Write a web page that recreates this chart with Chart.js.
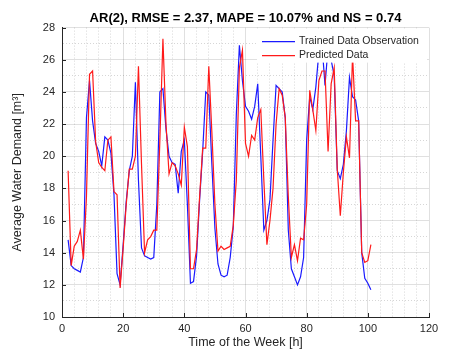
<!DOCTYPE html>
<html><head><meta charset="utf-8">
<script src="https://cdn.jsdelivr.net/npm/chart.js@4.4.1/dist/chart.umd.min.js"></script>
<style>html,body{margin:0;padding:0;background:#fff;}canvas{display:block;}</style>
</head><body>
<canvas id="c" width="474" height="356"></canvas>
<script>
const hours = [2,3,4,5,6,7,8,9,10,11,12,13,14,15,16,17,18,19,20,21,22,23,24,25,26,27,28,29,30,31,32,33,34,35,36,37,38,39,40,41,42,43,44,45,46,47,48,49,50,51,52,53,54,55,56,57,58,59,60,61,62,63,64,65,66,67,68,69,70,71,72,73,74,75,76,77,78,79,80,81,82,83,84,85,86,87,88,89,90,91,92,93,94,95,96,97,98,99,100,101];
const observed = [14.8,13.2,13.0,12.9,12.8,13.7,22.4,24.7,22.2,20.8,20.3,19.4,21.2,21.0,20.2,17.6,12.7,12.0,14.5,17.2,19.1,20.0,24.6,18.5,14.3,13.8,13.7,13.6,13.7,17.0,24.0,24.2,21.7,20.0,19.6,19.5,17.7,20.3,21.0,17.0,12.1,12.2,13.8,17.3,20.3,24.0,23.8,19.5,15.5,13.3,12.6,12.5,12.6,13.7,15.6,22.6,26.9,24.7,23.1,22.8,22.3,23.1,24.5,20.0,15.4,16.0,17.3,21.0,24.4,24.2,24.0,22.4,15.4,13.0,12.5,12.0,12.5,13.7,21.0,23.7,22.9,24.3,26.5,27.0,24.4,26.8,26.0,25.0,19.1,18.6,19.5,21.6,24.9,23.7,23.5,22.2,14.0,12.4,12.1,11.7];
const predicted = [19.1,13.2,14.4,14.7,15.4,13.6,17.5,25.1,25.3,20.9,19.6,19.3,19.1,21.0,21.2,17.8,17.6,11.8,14.3,17.0,19.2,19.2,20.0,25.6,19.5,14.0,14.8,15.0,15.4,15.4,21.0,27.3,22.0,18.9,19.6,19.4,18.9,18.2,21.8,20.6,13.0,13.0,14.2,17.5,20.5,20.5,25.6,21.5,17.0,14.1,14.4,14.2,14.3,14.4,15.7,18.5,25.5,26.6,20.8,20.0,21.3,21.0,22.4,22.9,18.5,14.5,16.0,18.0,22.0,24.2,23.8,22.4,17.5,13.7,14.5,13.5,14.9,14.8,17.0,24.1,22.9,21.6,24.7,25.3,25.3,20.3,24.5,25.5,19.2,16.3,19.0,21.2,19.9,26.3,22.2,22.2,14.0,13.4,13.5,14.5];
const xTickLabels = [0,20,40,60,80,100,120];
const yTickLabels = [10,12,14,16,18,20,22,24,26,28];
const seriesNames = ['Trained Data Observation','Predicted Data'];
const titleText = 'AR(2), RMSE = 2.37, MAPE = 10.07% and NS = 0.74';

const FONT = "'Liberation Sans', Arial, Helvetica, sans-serif";
Chart.defaults.font.family = FONT;
const AX = '#262626';
const MAJOR = 'rgba(0,0,0,0.12)';
const MINOR = 'rgba(0,0,0,0.16)';

const isMajorX = v => xTickLabels.includes(v);
const isMajorY = v => yTickLabels.includes(v);

// inward tick marks at the major ticks (MATLAB style)
const innerTicks = {
  id: 'innerTicks',
  afterDraw(chart) {
    const {ctx, chartArea: a, scales: {x, y}} = chart;
    ctx.save();
    ctx.strokeStyle = AX;
    ctx.lineWidth = 1;
    ctx.beginPath();
    xTickLabels.forEach(v => {
      const px = Math.round(x.getPixelForValue(v)) + 0.5;
      ctx.moveTo(px, a.bottom); ctx.lineTo(px, a.bottom - 4);
    });
    yTickLabels.forEach(v => {
      const py = Math.round(y.getPixelForValue(v)) + 0.5;
      ctx.moveTo(a.left, py); ctx.lineTo(a.left + 4, py);
    });
    ctx.stroke();
    ctx.restore();
  }
};

const legendBox = {
  id: 'legendBox',
  afterDatasetsDraw(chart) {
    const {ctx, chartArea: a} = chart;
    const left = a.right - 172, top = a.top + 1, w = 170, h = 34;
    ctx.save();
    ctx.fillStyle = '#ffffff';
    ctx.fillRect(left, top, w, h);
    ctx.font = '10.5px ' + FONT;
    ctx.textBaseline = 'middle';
    chart.data.datasets.forEach((ds, i) => {
      const y = top + 13 + i * 14;
      ctx.strokeStyle = ds.borderColor;
      ctx.lineWidth = 1.1;
      ctx.beginPath();
      ctx.moveTo(left + 5, y);
      ctx.lineTo(left + 38, y);
      ctx.stroke();
      ctx.fillStyle = AX;
      ctx.fillText(ds.label, left + 42, y);
    });
    ctx.restore();
  }
};

new Chart(document.getElementById('c'), {
  type: 'line',
  data: {
    datasets: [
      { label: seriesNames[0], data: hours.map((h, i) => ({x: h, y: observed[i]})),
        borderColor: '#1a1aff', borderWidth: 1.2, pointRadius: 0, tension: 0, fill: false, order: 1 },
      { label: seriesNames[1], data: hours.map((h, i) => ({x: h, y: predicted[i]})),
        borderColor: '#ff1a1a', borderWidth: 1.2, pointRadius: 0, tension: 0, fill: false, order: 0 }
    ]
  },
  options: {
    responsive: false,
    animation: false,
    devicePixelRatio: 1,
    layout: { padding: { left: 0, right: 45, top: 0, bottom: 0 } },
    plugins: {
      legend: { display: false },
      tooltip: { enabled: false },
      title: { display: true, text: titleText, fullSize: false, color: '#000',
               font: { size: 13, weight: 'bold', family: FONT }, padding: { top: 11, bottom: 1 } }
    },
    scales: {
      x: {
        type: 'linear', min: 0, max: 120,
        afterFit: s => { s.height = 39; },
        ticks: { stepSize: 4, autoSkip: false, maxRotation: 0, color: AX, font: { size: 11 }, padding: 5,
                 callback: v => isMajorX(v) ? String(v) : '' },
        grid: { drawTicks: false, color: c => (c.tick && isMajorX(c.tick.value)) ? MAJOR : MINOR, lineWidth: 1 },
        border: { display: true, color: AX, width: 1, dash: c => (c.tick && !isMajorX(c.tick.value)) ? [1, 2] : [] },
        title: { display: true, text: 'Time of the Week [h]', color: AX, font: { size: 12.5 }, padding: { top: 0, bottom: 6 } }
      },
      y: {
        type: 'linear', min: 10, max: 28,
        afterFit: s => { s.width = 62; },
        ticks: { stepSize: 1, autoSkip: false, color: AX, font: { size: 11 }, padding: 7,
                 callback: v => isMajorY(v) ? String(v) : '' },
        grid: { drawTicks: false, color: c => (c.tick && isMajorY(c.tick.value)) ? MAJOR : MINOR, lineWidth: 1 },
        border: { display: true, color: AX, width: 1, dash: c => (c.tick && !isMajorY(c.tick.value)) ? [1, 2] : [] },
        title: { display: true, text: 'Average Water Demand [m³]', color: AX, font: { size: 12.5 }, padding: { top: 10, bottom: 0 } }
      }
    }
  },
  plugins: [legendBox, innerTicks]
});
</script>
</body></html>
